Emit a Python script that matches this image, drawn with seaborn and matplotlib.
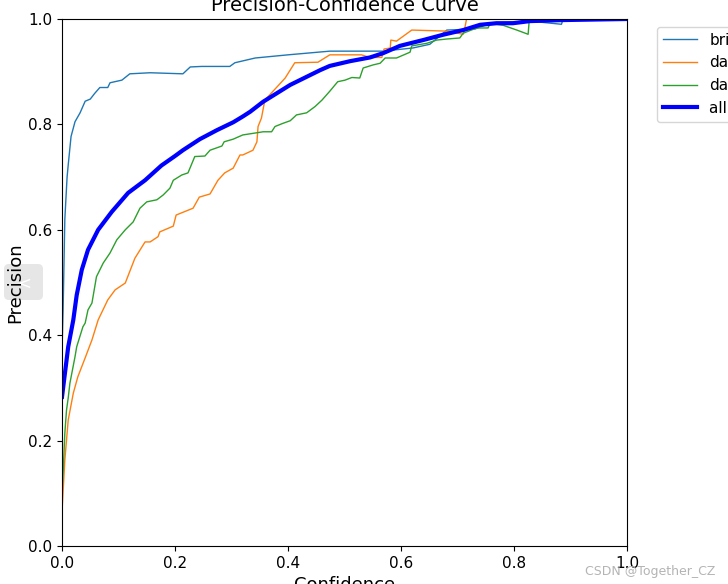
import matplotlib
matplotlib.use("Agg")
import matplotlib.pyplot as plt
from matplotlib.patches import FancyBboxPatch
import seaborn as sns
import pandas as pd

# ---------------- data ----------------
bridge_x = [0.0, 0.002, 0.005, 0.009, 0.011, 0.016, 0.023, 0.032, 0.041, 0.05, 0.058, 0.067,
            0.081, 0.085, 0.106, 0.120, 0.156, 0.214, 0.227, 0.247, 0.297, 0.306, 0.342, 0.40,
            0.474, 0.568, 0.621, 0.651, 0.681, 0.731, 0.758, 0.828, 0.884, 0.887, 1.0]
bridge_y = [0.37, 0.45, 0.62, 0.70, 0.723, 0.777, 0.805, 0.822, 0.844, 0.848, 0.859, 0.870,
            0.870, 0.879, 0.884, 0.896, 0.898, 0.896, 0.909, 0.910, 0.910, 0.917, 0.926, 0.932,
            0.939, 0.939, 0.945, 0.952, 0.979, 0.981, 0.992, 0.996, 0.990, 1.0, 1.0]

dam_x = [0.0, 0.005, 0.011, 0.020, 0.028, 0.041, 0.053, 0.064, 0.081, 0.094, 0.112, 0.129,
         0.147, 0.156, 0.170, 0.173, 0.197, 0.202, 0.232, 0.243, 0.262, 0.276, 0.288, 0.303,
         0.315, 0.320, 0.338, 0.345, 0.347, 0.353, 0.359, 0.395, 0.412, 0.453, 0.474, 0.530,
         0.545, 0.566, 0.570, 0.581, 0.582, 0.592, 0.619, 0.681, 0.710, 0.713, 0.716, 1.0]
dam_y = [0.065, 0.163, 0.239, 0.290, 0.321, 0.357, 0.391, 0.429, 0.467, 0.486, 0.499, 0.546,
         0.577, 0.577, 0.587, 0.596, 0.607, 0.628, 0.641, 0.662, 0.668, 0.694, 0.708, 0.717,
         0.742, 0.742, 0.751, 0.767, 0.796, 0.812, 0.846, 0.888, 0.917, 0.918, 0.932, 0.932,
         0.927, 0.927, 0.943, 0.945, 0.960, 0.958, 0.979, 0.977, 0.971, 0.983, 1.0, 1.0]

damage_x = [0.0, 0.002, 0.005, 0.008, 0.011, 0.014, 0.023, 0.026, 0.028, 0.037, 0.041, 0.046,
            0.053, 0.061, 0.073, 0.085, 0.097, 0.112, 0.126, 0.138, 0.150, 0.168, 0.179, 0.191,
            0.197, 0.212, 0.223, 0.235, 0.253, 0.262, 0.283, 0.287, 0.303, 0.320, 0.356, 0.371,
            0.377, 0.391, 0.404, 0.415, 0.433, 0.448, 0.460, 0.474, 0.488, 0.501, 0.513, 0.527,
            0.533, 0.551, 0.563, 0.572, 0.592, 0.616, 0.619, 0.646, 0.663, 0.681, 0.704, 0.710,
            0.734, 0.754, 0.758, 0.781, 0.805, 0.825, 0.827, 1.0]
damage_y = [0.10, 0.14, 0.214, 0.258, 0.281, 0.309, 0.359, 0.378, 0.385, 0.416, 0.423, 0.448,
            0.461, 0.511, 0.537, 0.556, 0.581, 0.600, 0.615, 0.641, 0.653, 0.657, 0.666, 0.679,
            0.694, 0.704, 0.708, 0.739, 0.740, 0.751, 0.759, 0.767, 0.772, 0.780, 0.786, 0.786,
            0.796, 0.802, 0.807, 0.818, 0.822, 0.834, 0.846, 0.863, 0.881, 0.884, 0.889, 0.888,
            0.907, 0.913, 0.916, 0.926, 0.926, 0.937, 0.949, 0.954, 0.960, 0.962, 0.964, 0.973,
            0.983, 0.983, 0.992, 0.988, 0.979, 0.971, 0.998, 1.0]

all_x = [0.0, 0.011, 0.020, 0.026, 0.035, 0.046, 0.064, 0.088, 0.117, 0.147, 0.176, 0.2,
         0.214, 0.244, 0.274, 0.303, 0.320, 0.333, 0.356, 0.404, 0.457, 0.474, 0.510, 0.545,
         0.568, 0.598, 0.639, 0.674, 0.710, 0.740, 0.769, 0.798, 0.828, 0.887, 1.0]
all_y = [0.283, 0.378, 0.429, 0.476, 0.524, 0.562, 0.600, 0.634, 0.670, 0.694, 0.722, 0.740,
         0.751, 0.772, 0.789, 0.804, 0.815, 0.824, 0.843, 0.875, 0.903, 0.911, 0.920, 0.927,
         0.935, 0.949, 0.960, 0.970, 0.979, 0.989, 0.992, 0.992, 0.996, 0.998, 1.0]

class_names = ["bridge", "dam", "damage"]
all_label = "all classes 1.00 at 0.887"
ticks = [0.0, 0.2, 0.4, 0.6, 0.8, 1.0]
tick_labels = ["0.0", "0.2", "0.4", "0.6", "0.8", "1.0"]

# ---------------- figure ----------------
plt.rcParams["font.family"] = ["DejaVu Sans"]
plt.rcParams["font.size"] = 11

W, H = 728, 584
fig = plt.figure(figsize=(W / 100, H / 100), dpi=100)
ax = fig.add_axes([62 / W, 38 / H, 565 / W, 527 / H])

series = [(bridge_x, bridge_y, class_names[0], "#1f77b4", 1.0),
          (dam_x, dam_y, class_names[1], "#ff7f0e", 1.0),
          (damage_x, damage_y, class_names[2], "#2ca02c", 1.0),
          (all_x, all_y, all_label, "blue", 3.0)]
for xs, ys, name, col, lw in series:
    df = pd.DataFrame({"Confidence": xs, "Precision": ys})
    sns.lineplot(data=df, x="Confidence", y="Precision", ax=ax, color=col,
                 linewidth=lw, label=name, sort=False, estimator=None)

ax.set_xlim(0, 1)
ax.set_ylim(0, 1)
ax.set_xticks(ticks)
ax.set_xticklabels(tick_labels)
ax.set_yticks(ticks)
ax.set_yticklabels(tick_labels)
ax.set_xlabel("Confidence", fontsize=13)
ax.set_ylabel("Precision", fontsize=13, labelpad=3)
ax.set_title("Precision-Confidence Curve", fontsize=14)
ax.legend(bbox_to_anchor=(1.04, 1), loc="upper left", fontsize=11, handlelength=2.2)

# screenshot overlay: grey rounded button at left and watermark
btn = FancyBboxPatch((0.04, (H - 300) / 100), 0.39, 0.36,
                     boxstyle="round,pad=0,rounding_size=0.05",
                     transform=fig.dpi_scale_trans, facecolor="#e6e6e6",
                     edgecolor="none", zorder=-1)
fig.patches.append(btn)
fig.text(24 / W, 1 - 284 / H, "<", color="white", ha="center", va="center",
         fontsize=12, zorder=-0.5)
fig.text(715 / W, 1 - 571 / H, "CSDN @Together_CZ", color="#b4b4b4",
         ha="right", va="center", fontsize=9)

fig.savefig("out.png", dpi=100)
